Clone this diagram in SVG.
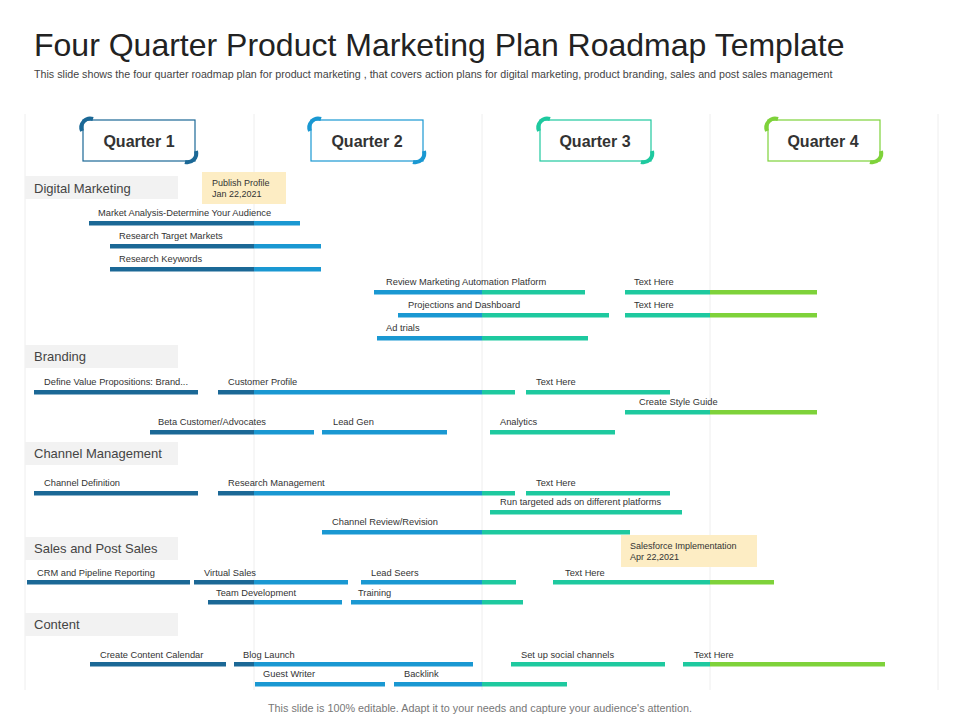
<svg xmlns="http://www.w3.org/2000/svg" width="960" height="720" viewBox="0 0 960 720">
<style>
text{font-family:"Liberation Sans",Arial,sans-serif}
.t{font-size:32px;fill:#222}
.sub{font-size:10.7px;fill:#444}
.q{font-size:16px;font-weight:bold;fill:#333;text-anchor:middle}
.h{font-size:13px;fill:#444}
.hb{fill:#f2f2f2}
.l{font-size:9.3px;fill:#333}
.b{fill:url(#g)}
.grid{stroke:#eeeeee;stroke-width:1}
.note{fill:#fdedc4}
.n{font-size:9px;fill:#333}
</style>
<defs>
<linearGradient id="g" gradientUnits="userSpaceOnUse" x1="0" y1="0" x2="960" y2="0">
<stop offset="0" stop-color="#1b6896"/><stop offset="0.2646" stop-color="#1b6896"/>
<stop offset="0.2646" stop-color="#1a98d2"/><stop offset="0.5021" stop-color="#1a98d2"/>
<stop offset="0.5021" stop-color="#1ec99f"/><stop offset="0.7396" stop-color="#1ec99f"/>
<stop offset="0.7396" stop-color="#7ed23a"/><stop offset="1" stop-color="#7ed23a"/>
</linearGradient>
</defs>
<rect width="960" height="720" fill="#fff"/>
<text class="t" x="34" y="56">Four Quarter Product Marketing Plan Roadmap Template</text>
<text class="sub" x="34" y="78">This slide shows the four quarter roadmap plan  for product marketing , that covers action plans for digital marketing, product branding, sales and post sales management</text>
<g id="grid">
<line class="grid" x1="25" y1="114" x2="25" y2="690"/>
<line class="grid" x1="254" y1="114" x2="254" y2="690"/>
<line class="grid" x1="482" y1="114" x2="482" y2="690"/>
<line class="grid" x1="710" y1="114" x2="710" y2="690"/>
<line class="grid" x1="938" y1="114" x2="938" y2="690"/>
</g>
<g id="q1"><rect x="83" y="120" width="112" height="41" fill="#fff" stroke="#1b6896" stroke-width="1.2"/><path d="M82,131 A9,9 0 0 1 93,119" fill="none" stroke="#1b6896" stroke-width="4"/><path d="M196,151 A9,9 0 0 1 185,162" fill="none" stroke="#1b6896" stroke-width="4"/><text class="q" x="139" y="147">Quarter 1</text></g>
<g id="q2"><rect x="311" y="120" width="112" height="41" fill="#fff" stroke="#1a98d2" stroke-width="1.2"/><path d="M310,131 A9,9 0 0 1 321,119" fill="none" stroke="#1a98d2" stroke-width="4"/><path d="M424,151 A9,9 0 0 1 413,162" fill="none" stroke="#1a98d2" stroke-width="4"/><text class="q" x="367" y="147">Quarter 2</text></g>
<g id="q3"><rect x="540" y="120" width="111" height="41" fill="#fff" stroke="#1ec99f" stroke-width="1.2"/><path d="M539,131 A9,9 0 0 1 550,119" fill="none" stroke="#1ec99f" stroke-width="4"/><path d="M652,151 A9,9 0 0 1 641,162" fill="none" stroke="#1ec99f" stroke-width="4"/><text class="q" x="595" y="147">Quarter 3</text></g>
<g id="q4"><rect x="768" y="120" width="112" height="41" fill="#fff" stroke="#7ed23a" stroke-width="1.2"/><path d="M767,131 A9,9 0 0 1 778,119" fill="none" stroke="#7ed23a" stroke-width="4"/><path d="M881,151 A9,9 0 0 1 870,162" fill="none" stroke="#7ed23a" stroke-width="4"/><text class="q" x="823" y="147">Quarter 4</text></g>
<g id="headers">
<rect class="hb" x="25" y="176" width="153" height="23"/><text class="h" x="34" y="193">Digital Marketing</text>
<rect class="hb" x="25" y="345" width="153" height="23"/><text class="h" x="34" y="361">Branding</text>
<rect class="hb" x="25" y="442" width="153" height="23"/><text class="h" x="34" y="458">Channel Management</text>
<rect class="hb" x="25" y="537" width="153" height="23"/><text class="h" x="34" y="553">Sales and Post Sales</text>
<rect class="hb" x="25" y="613" width="153" height="23"/><text class="h" x="34" y="629">Content</text>
</g>
<g id="notes">
<rect class="note" x="202" y="172" width="84" height="32"/><text class="n" x="212" y="186">Publish Profile</text><text class="n" x="212" y="197">Jan 22,2021</text>
<rect class="note" x="621" y="535" width="136" height="32"/><text class="n" x="630" y="549">Salesforce Implementation</text><text class="n" x="630" y="560">Apr 22,2021</text>
</g>
<g id="bars">
<text class="l" x="98" y="216">Market Analysis-Determine Your Audience</text><rect class="b" x="89" y="221" width="211" height="4.5"/>
<text class="l" x="119" y="239">Research Target Markets</text><rect class="b" x="110" y="244" width="211" height="4.5"/>
<text class="l" x="119" y="262">Research Keywords</text><rect class="b" x="110" y="267" width="211" height="4.5"/>
<text class="l" x="386" y="285">Review Marketing Automation Platform</text><rect class="b" x="374" y="290" width="211" height="4.5"/>
<text class="l" x="634" y="285">Text Here</text><rect class="b" x="625" y="290" width="192" height="4.5"/>
<text class="l" x="408" y="308">Projections and Dashboard</text><rect class="b" x="398" y="313" width="211" height="4.5"/>
<text class="l" x="634" y="308">Text Here</text><rect class="b" x="625" y="313" width="192" height="4.5"/>
<text class="l" x="386" y="331">Ad trials</text><rect class="b" x="377" y="336" width="211" height="4.5"/>
<text class="l" x="44" y="385">Define Value Propositions: Brand...</text><rect class="b" x="34" y="390" width="164" height="4.5"/>
<text class="l" x="228" y="385">Customer Profile</text><rect class="b" x="218" y="390" width="297" height="4.5"/>
<text class="l" x="536" y="385">Text Here</text><rect class="b" x="526" y="390" width="144" height="4.5"/>
<text class="l" x="639" y="405">Create Style Guide</text><rect class="b" x="625" y="410" width="192" height="4.5"/>
<text class="l" x="158" y="425">Beta Customer/Advocates</text><rect class="b" x="150" y="430" width="164" height="4.5"/>
<text class="l" x="333" y="425">Lead Gen</text><rect class="b" x="322" y="430" width="125" height="4.5"/>
<text class="l" x="500" y="425">Analytics</text><rect class="b" x="490" y="430" width="125" height="4.5"/>
<text class="l" x="44" y="486">Channel Definition</text><rect class="b" x="34" y="491" width="164" height="4.5"/>
<text class="l" x="228" y="486">Research Management</text><rect class="b" x="218" y="491" width="297" height="4.5"/>
<text class="l" x="536" y="486">Text Here</text><rect class="b" x="526" y="491" width="144" height="4.5"/>
<text class="l" x="500" y="505">Run targeted ads on different platforms</text><rect class="b" x="490" y="510" width="192" height="4.5"/>
<text class="l" x="332" y="525">Channel Review/Revision</text><rect class="b" x="322" y="530" width="308" height="4.5"/>
<text class="l" x="37" y="576">CRM and Pipeline Reporting</text><rect class="b" x="27" y="580" width="163" height="4.5"/>
<text class="l" x="204" y="576">Virtual Sales</text><rect class="b" x="194" y="580" width="154" height="4.5"/>
<text class="l" x="371" y="576">Lead Seers</text><rect class="b" x="361" y="580" width="155" height="4.5"/>
<text class="l" x="565" y="576">Text Here</text><rect class="b" x="553" y="580" width="221" height="4.5"/>
<text class="l" x="216" y="596">Team Development</text><rect class="b" x="208" y="600" width="134" height="4.5"/>
<text class="l" x="358" y="596">Training</text><rect class="b" x="351" y="600" width="172" height="4.5"/>
<text class="l" x="100" y="658">Create Content Calendar</text><rect class="b" x="90" y="662" width="136" height="4.5"/>
<text class="l" x="243" y="658">Blog Launch</text><rect class="b" x="234" y="662" width="239" height="4.5"/>
<text class="l" x="521" y="658">Set up social channels</text><rect class="b" x="511" y="662" width="154" height="4.5"/>
<text class="l" x="694" y="658">Text Here</text><rect class="b" x="683" y="662" width="202" height="4.5"/>
<text class="l" x="263" y="677">Guest Writer</text><rect class="b" x="255" y="682" width="130" height="4.5"/>
<text class="l" x="404" y="677">Backlink</text><rect class="b" x="394" y="682" width="173" height="4.5"/>
</g>
<text x="480" y="712" text-anchor="middle" style="font-size:10.8px;fill:#777">This slide is 100% editable. Adapt it to your needs and capture your audience's attention.</text>
</svg>
